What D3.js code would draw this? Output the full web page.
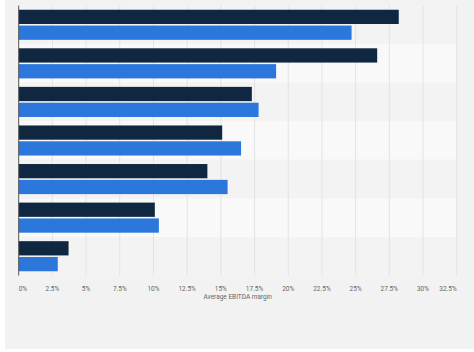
<!DOCTYPE html>
<html>
<head>
<meta charset="utf-8">
<script src="https://cdn.jsdelivr.net/npm/d3@7"></script>
<style>
  html, body { margin: 0; padding: 0; background: #ffffff; }
  svg { display: block; font-family: Roboto, "Open Sans", Arial, sans-serif; }
</style>
</head>
<body>
<div id="chart"></div>
<script>
// category labels are not shown in the reference picture
const categories = ['A', 'B', 'C', 'D', 'E', 'F', 'G'];
const seriesNames = ['Series 1', 'Series 2'];
const series1 = [28.2, 26.6, 17.3, 15.1, 14.0, 10.1, 3.7];
const series2 = [24.7, 19.1, 17.8, 16.5, 15.5, 10.4, 2.9];
const tickValues = [0, 2.5, 5, 7.5, 10, 12.5, 15, 17.5, 20, 22.5, 25, 27.5, 30, 32.5];
const axisTitle = 'Average EBITDA margin';

const width = 474, height = 352;
const margin = { top: 5.5, right: 17.3, bottom: 76.5, left: 18.7 };
const colors = ['#0f2740', '#2b77dc'];

const svg = d3.select('#chart').append('svg')
    .attr('width', width)
    .attr('height', height);

// panel background
svg.append('rect')
    .attr('x', 5).attr('y', 0)
    .attr('width', width - 5).attr('height', 349)
    .attr('fill', '#f2f2f2');

const x = d3.scaleLinear()
    .domain([0, 32.5])
    .range([margin.left, width - margin.right]);

const y = d3.scaleBand()
    .domain(categories)
    .range([margin.top, height - margin.bottom])
    .paddingInner(0.22)
    .paddingOuter(0.11);

const ySub = d3.scaleBand()
    .domain(seriesNames)
    .range([0, y.bandwidth()])
    .paddingInner(0.1);

// alternating row bands
const step = y.step();
svg.append('g').selectAll('rect')
    .data(categories)
    .join('rect')
    .attr('x', margin.left)
    .attr('y', d => y(d) - step * y.paddingInner() / 2)
    .attr('width', x(32.5) - margin.left)
    .attr('height', step)
    .attr('fill', (d, i) => i % 2 === 0 ? '#f3f3f3' : '#f9f9f9');

// vertical grid
svg.append('g').selectAll('line')
    .data(tickValues.slice(1))
    .join('line')
    .attr('x1', d => x(d)).attr('x2', d => x(d))
    .attr('y1', margin.top).attr('y2', height - margin.bottom)
    .attr('stroke', '#e3e3e3')
    .attr('stroke-width', 1);

// bars
const rows = categories.map((c, i) => ({ cat: c, values: [series1[i], series2[i]] }));
svg.append('g').selectAll('g')
    .data(rows)
    .join('g')
    .attr('transform', d => `translate(0,${y(d.cat)})`)
    .selectAll('rect')
    .data(d => d.values.map((v, j) => ({ name: seriesNames[j], value: v, j })))
    .join('rect')
    .attr('x', x(0))
    .attr('y', d => ySub(d.name))
    .attr('width', d => x(d.value) - x(0))
    .attr('height', ySub.bandwidth())
    .attr('fill', d => colors[d.j]);

// axis line
svg.append('line')
    .attr('x1', x(0)).attr('x2', x(0))
    .attr('y1', margin.top).attr('y2', height - margin.bottom)
    .attr('stroke', '#555')
    .attr('stroke-width', 1);

// tick labels
const last = tickValues.length - 1;
svg.append('g').selectAll('text')
    .data(tickValues)
    .join('text')
    .attr('x', d => x(d))
    .attr('y', 289)
    .attr('text-anchor', (d, i) => i === 0 ? 'start' : (i === last ? 'end' : 'middle'))
    .attr('dominant-baseline', 'middle')
    .attr('font-size', 6.5)
    .attr('fill', '#666')
    .text(d => d3.format('~g')(d) + '%');

svg.append('text')
    .attr('x', x(16.25))
    .attr('y', 297.5)
    .attr('text-anchor', 'middle')
    .attr('dominant-baseline', 'middle')
    .attr('font-size', 6.5)
    .attr('fill', '#666')
    .text(axisTitle);
</script>
</body>
</html>
